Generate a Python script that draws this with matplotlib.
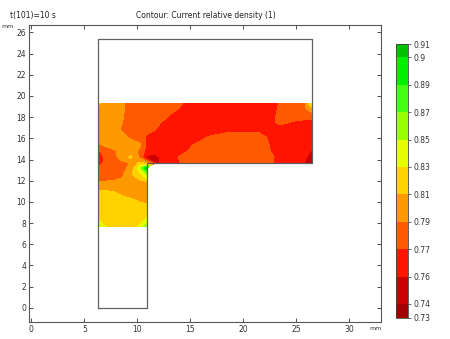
import numpy as np
import matplotlib
matplotlib.use("Agg")
import matplotlib.pyplot as plt

# contour field (mm / relative density)
x_nodes = [6.3, 7.0, 7.8, 8.6, 9.4, 10.2, 10.9, 11.7, 12.8, 14.0, 15.5, 17.0, 18.5, 20.0,
           21.5, 22.5, 23.5, 24.8, 25.8, 26.5]
y_nodes = [19.3, 18.8, 18.2, 17.5, 16.8, 16.1, 15.4, 14.8, 14.2, 13.7,
           13.2, 12.6, 11.8, 11.0, 10.2, 9.3, 8.4, 7.7]

# horizontal arm (full width)
rows_arm = [
    [0.816, 0.803, 0.800, 0.795, 0.786, 0.784, 0.783, 0.782, 0.780, 0.776, 0.768, 0.763, 0.762, 0.762, 0.764, 0.768, 0.776, 0.785, 0.790, 0.835],
    [0.805, 0.802, 0.800, 0.795, 0.787, 0.784, 0.783, 0.781, 0.779, 0.774, 0.766, 0.762, 0.761, 0.761, 0.763, 0.768, 0.777, 0.786, 0.790, 0.805],
    [0.800, 0.801, 0.800, 0.794, 0.787, 0.784, 0.782, 0.779, 0.776, 0.768, 0.763, 0.760, 0.759, 0.759, 0.762, 0.768, 0.779, 0.785, 0.786, 0.786],
    [0.798, 0.800, 0.799, 0.793, 0.787, 0.783, 0.780, 0.777, 0.772, 0.765, 0.760, 0.758, 0.758, 0.759, 0.762, 0.770, 0.779, 0.772, 0.768, 0.766],
    [0.797, 0.800, 0.798, 0.791, 0.786, 0.782, 0.779, 0.7745, 0.766, 0.762, 0.762, 0.766, 0.770, 0.771, 0.770, 0.768, 0.766, 0.764, 0.763, 0.762],
    [0.796, 0.800, 0.801, 0.798, 0.790, 0.783, 0.772, 0.765, 0.762, 0.762, 0.768, 0.777, 0.782, 0.783, 0.781, 0.772, 0.766, 0.764, 0.762, 0.762],
    [0.790, 0.797, 0.802, 0.803, 0.800, 0.797, 0.770, 0.762, 0.762, 0.768, 0.776, 0.784, 0.786, 0.786, 0.785, 0.774, 0.766, 0.764, 0.762, 0.760],
    [0.772, 0.782, 0.790, 0.800, 0.804, 0.790, 0.768, 0.762, 0.765, 0.770, 0.779, 0.786, 0.788, 0.788, 0.786, 0.775, 0.768, 0.765, 0.762, 0.754],
    [0.765, 0.778, 0.786, 0.805, 0.814, 0.790, 0.750, 0.750, 0.766, 0.776, 0.784, 0.787, 0.788, 0.788, 0.786, 0.779, 0.768, 0.765, 0.758, 0.750],
    [0.766, 0.779, 0.785, 0.788, 0.794, 0.815, 0.800, 0.752, 0.764, 0.774, 0.783, 0.786, 0.788, 0.788, 0.786, 0.778, 0.768, 0.764, 0.756, 0.748],
]
# vertical stem (x <= 10.9 only)
rows_stem = [
    [0.776, 0.782, 0.785, 0.787, 0.800, 0.840, 0.905],
    [0.784, 0.785, 0.786, 0.790, 0.810, 0.822, 0.850],
    [0.795, 0.795, 0.796, 0.798, 0.800, 0.805, 0.806],
    [0.813, 0.813, 0.811, 0.806, 0.803, 0.802, 0.802],
    [0.818, 0.819, 0.818, 0.816, 0.813, 0.810, 0.808],
    [0.820, 0.821, 0.821, 0.820, 0.819, 0.817, 0.816],
    [0.826, 0.822, 0.821, 0.821, 0.820, 0.822, 0.832],
    [0.855, 0.830, 0.822, 0.821, 0.822, 0.832, 0.860],
]

# geometry outline (L shape)
geom_x = [6.3, 10.9, 10.9, 26.5, 26.5, 6.3, 6.3]
geom_y = [0.0, 0.0, 13.7, 13.7, 25.4, 25.4, 0.0]

levels = [0.728, 0.7375, 0.756, 0.7745, 0.793, 0.8115, 0.83, 0.8485, 0.867, 0.8855, 0.904, 0.913]
level_labels = ["0.73", "0.74", "0.76", "0.77", "0.79", "0.81", "0.83", "0.85", "0.87", "0.89", "0.9", "0.91"]
band_colors = ["#a00000", "#cc0000", "#ff1400", "#ff5a00", "#ff9900", "#ffd200",
               "#e6ff00", "#99ff00", "#44ff11", "#00f000", "#00c000"]

n = len(x_nodes)
Z = np.array(rows_arm + [r + [np.nan] * (n - len(r)) for r in rows_stem])
Z = np.ma.masked_invalid(np.flipud(Z))
X, Y = np.meshgrid(x_nodes, y_nodes[::-1])

fs = 5.5
fig = plt.figure(figsize=(4.5, 3.39), dpi=100)
ax = fig.add_axes([0.0644, 0.0507, 0.7822, 0.8755])
cs = ax.contourf(X, Y, Z, levels=levels, colors=band_colors)
ax.plot(geom_x, geom_y, color="#606060", lw=0.9)

ax.set_xlim(-0.23, 33.0)
ax.set_ylim(-1.32, 26.7)
ax.set_xticks(np.arange(0, 31, 5))
ax.set_yticks(np.arange(0, 27, 2))
ax.tick_params(direction="in", top=True, right=True, length=3, width=0.6,
               labelsize=fs, colors="#333333", pad=2)
for s in ax.spines.values():
    s.set_color("#555555")
    s.set_linewidth(0.8)

fig.text(0.022, 0.953, "t(101)=10 s", fontsize=fs, color="#222222", va="center")
fig.text(0.457, 0.953, "Contour: Current relative density (1)", fontsize=fs,
         color="#222222", ha="center", va="center")
fig.text(0.004, 0.922, "mm", fontsize=fs - 1, color="#333333", va="center")
fig.text(0.82, 0.03, "mm", fontsize=fs - 1, color="#333333", va="center")

cax = fig.add_axes([0.88, 0.062, 0.0267, 0.808])
cb = fig.colorbar(cs, cax=cax, ticks=levels, spacing="proportional")
cb.ax.set_yticklabels(level_labels)
cb.ax.tick_params(labelsize=fs, length=2, width=0.5, colors="#333333", pad=2)
cb.outline.set_edgecolor("#444444")
cb.outline.set_linewidth(0.6)

fig.savefig("out.png", dpi=100)
